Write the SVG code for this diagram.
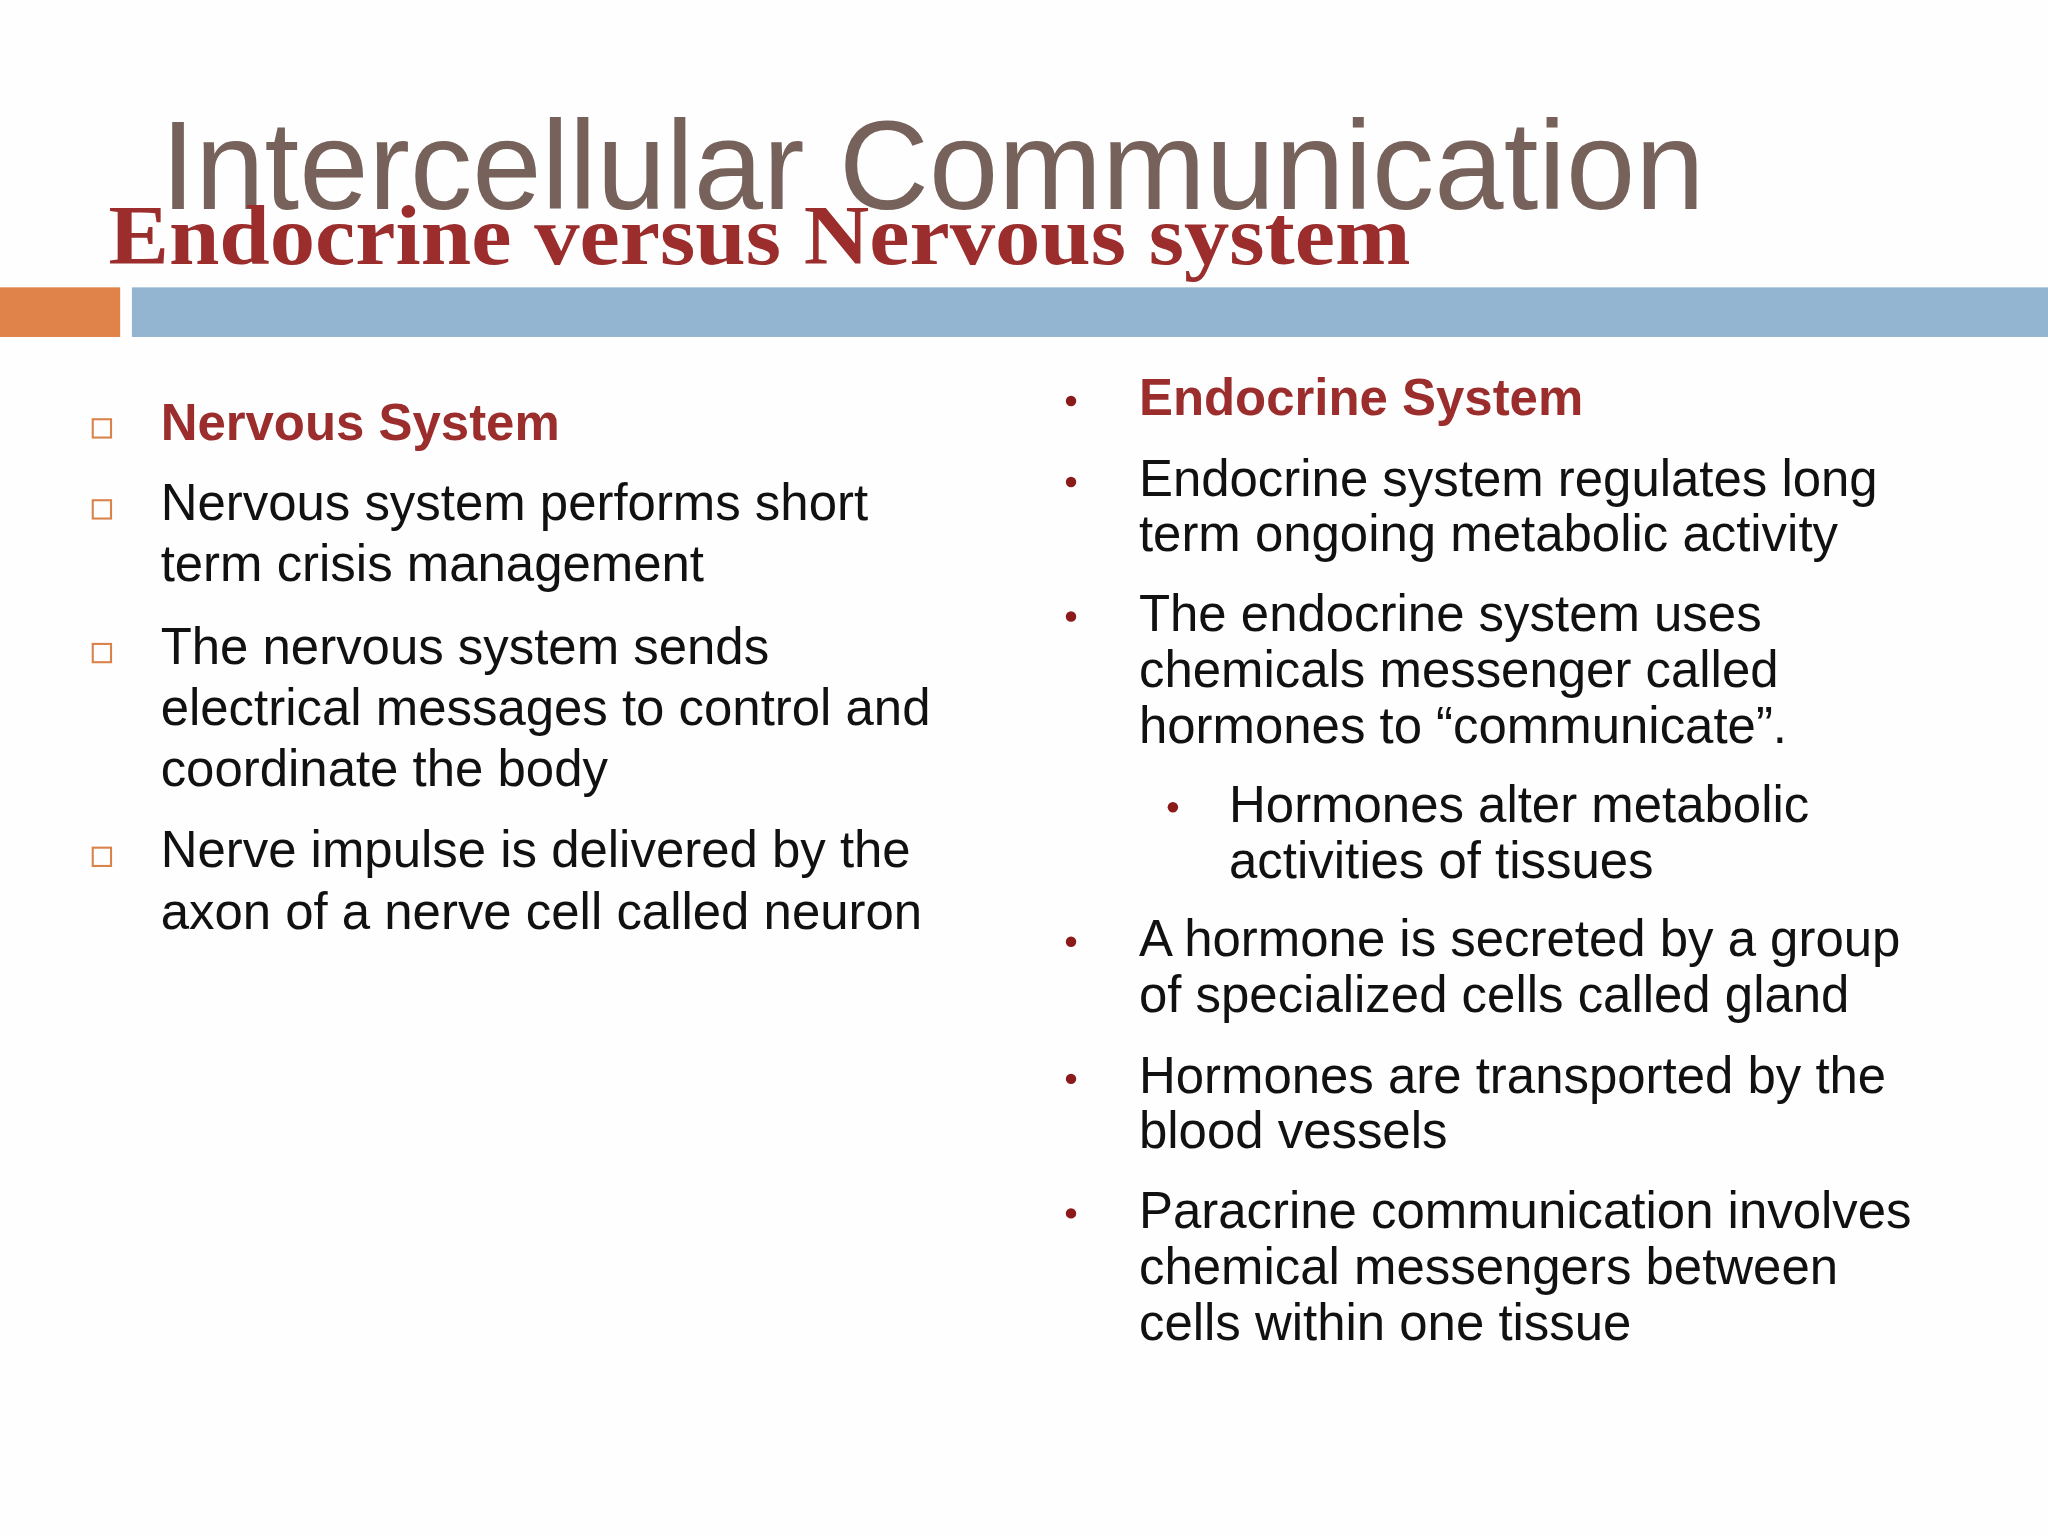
<svg xmlns="http://www.w3.org/2000/svg" width="2048" height="1536" viewBox="0 0 2048 1536">
<style>
.t{font-family:"Liberation Sans",Arial,sans-serif;font-size:39px;fill:#111}
.h{font-family:"Liberation Sans",Arial,sans-serif;font-size:39px;font-weight:bold;fill:#9b2d2d}
.sq{fill:none;stroke:#d9824a;stroke-width:1.6}
.dot{fill:#8b1a1a}
</style>
<rect width="2048" height="1536" fill="#fefefe"/>
<g transform="scale(1.30612)">
<g id="title">
<text x="123" y="160" font-family="Liberation Sans,Arial,sans-serif" font-size="96" fill="#76625b" textLength="1182" lengthAdjust="spacingAndGlyphs">Intercellular Communication</text>
<text x="83" y="202" font-family="Liberation Serif,Times New Roman,serif" font-size="64" font-weight="bold" fill="#9b2d2d" textLength="997" lengthAdjust="spacingAndGlyphs">Endocrine versus Nervous system</text>
</g>
<g id="bars">
<rect x="0" y="220" width="92" height="38" fill="#e0834a"/>
<rect x="101" y="220" width="1467" height="38" fill="#93b5d1"/>
</g>
<g id="left">
<rect class="sq" x="71" y="321" width="14" height="14"/>
<rect class="sq" x="71" y="383" width="14" height="14"/>
<rect class="sq" x="71" y="493" width="14" height="14"/>
<rect class="sq" x="71" y="649" width="14" height="14"/>
<text class="h" x="123" y="337">Nervous System</text>
<text class="t" x="123" y="398">Nervous system performs short</text>
<text class="t" x="123" y="445">term crisis management</text>
<text class="t" x="123" y="508">The nervous system sends</text>
<text class="t" x="123" y="555">electrical messages to control and</text>
<text class="t" x="123" y="602">coordinate the body</text>
<text class="t" x="123" y="664">Nerve impulse is delivered by the</text>
<text class="t" x="123" y="711">axon of a nerve cell called neuron</text>
</g>
<g id="right">
<circle class="dot" cx="820" cy="307" r="4"/>
<circle class="dot" cx="820" cy="369" r="4"/>
<circle class="dot" cx="820" cy="472" r="4"/>
<circle class="dot" cx="898" cy="618" r="4"/>
<circle class="dot" cx="820" cy="721" r="4"/>
<circle class="dot" cx="820" cy="826" r="4"/>
<circle class="dot" cx="820" cy="929" r="4"/>
<text class="h" x="872" y="318">Endocrine System</text>
<text class="t" x="872" y="380">Endocrine system regulates long</text>
<text class="t" x="872" y="422">term ongoing metabolic activity</text>
<text class="t" x="872" y="483">The endocrine system uses</text>
<text class="t" x="872" y="526">chemicals messenger called</text>
<text class="t" x="872" y="569">hormones to “communicate”.</text>
<text class="t" x="941" y="629">Hormones alter metabolic</text>
<text class="t" x="941" y="672">activities of tissues</text>
<text class="t" x="872" y="732">A hormone is secreted by a group</text>
<text class="t" x="872" y="775">of specialized cells called gland</text>
<text class="t" x="872" y="837">Hormones are transported by the</text>
<text class="t" x="872" y="879">blood vessels</text>
<text class="t" x="872" y="940">Paracrine communication involves</text>
<text class="t" x="872" y="983">chemical messengers between</text>
<text class="t" x="872" y="1026">cells within one tissue</text>
</g>
</g>
</svg>
